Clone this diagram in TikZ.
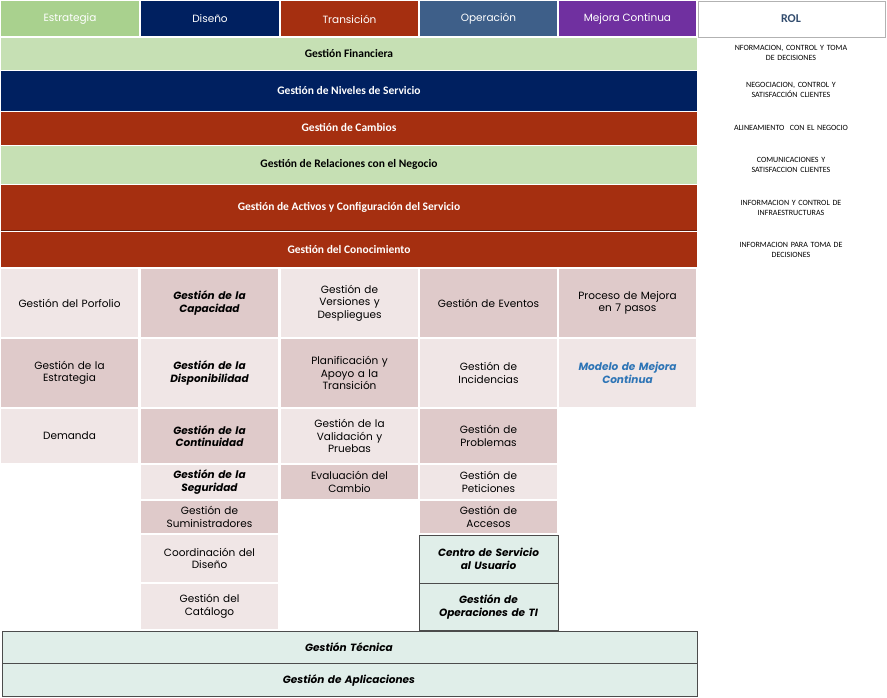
\documentclass[tikz,border=0pt]{standalone}
\usepackage{fontspec}
\setmainfont{Poppins}
\newfontfamily\cf{Carlito}
\definecolor{cest}{HTML}{A9D18E}
\definecolor{cdis}{HTML}{002060}
\definecolor{ctra}{HTML}{A52F10}
\definecolor{cope}{HTML}{3E5F89}
\definecolor{cmej}{HTML}{7030A0}
\definecolor{cgreen}{HTML}{C6E0B4}
\definecolor{clt}{HTML}{F0E6E6}
\definecolor{cdk}{HTML}{DFCACA}
\definecolor{cteal}{HTML}{E0EEE9}
\definecolor{cblue}{HTML}{2E75B6}
\begin{document}
\begin{tikzpicture}[x=1pt,y=-1pt,
  cell/.style={draw=white,line width=1.5pt,inner sep=0pt},
  gtxt/.style={font=\fontsize{10.5}{12.5}\selectfont,align=center,text width=138pt},
  btxt/.style={font=\fontsize{10.5}{12.5}\selectfont\bfseries\itshape,align=center,text width=138pt},
  band/.style={font=\cf\fontsize{11.5}{13}\selectfont\bfseries},
  rol/.style={font=\cf\fontsize{8}{10}\selectfont,align=center,text width=186pt}]
\useasboundingbox (0,0) rectangle (887,698);
\fill[white] (0,0) rectangle (887,698);
% header
\foreach \a/\b/\c/\t [count=\i] in {0/140/cest/Estrategia,140/280/cdis/Diseño,280/419/ctra/Transición,419/558/cope/Operación,558/697/cmej/Mejora Continua}{
  \filldraw[cell,fill=\c] (\a,0) rectangle (\b,37);
  \node[font=\fontsize{10.5}{12}\selectfont,text=white] (h\i) at ({(\a+\b)/2},19) {\t};
}
\draw[gray!60] (698,1) rectangle (885,37);
\node[font=\cf\fontsize{12}{14}\selectfont\bfseries,text=cope!80!black] (rol) at (791,19) {ROL};
% bands
\foreach \ya/\yb/\c/\tc/\t [count=\i] in {37/70/cgreen/black/Gestión Financiera,70/111/cdis/white/Gestión de Niveles de Servicio,111/145/ctra/white/Gestión de Cambios,145/184/cgreen/black/Gestión de Relaciones con el Negocio,184/231/ctra/white/Gestión de Activos y Configuración del Servicio,231/268/ctra/white/Gestión del Conocimiento}{
  \fill[\c] (1,\ya+1) rectangle (697,\yb);
  \node[band,text=\tc] (b\i) at (349,{(\ya+\yb)/2}) {\t};
}
\draw[ctra!60!black,line width=1pt] (1,231) -- (697,231);
\node[rol] (r1) at (791,53) {NFORMACION, CONTROL Y TOMA\\DE DECISIONES};
\node[rol] (r2) at (791,90) {NEGOCIACION, CONTROL Y\\SATISFACCIÓN CLIENTES};
\node[rol] (r3) at (791,128) {ALINEAMIENTO\ \ CON EL NEGOCIO};
\node[rol] (r4) at (791,165) {COMUNICACIONES Y\\SATISFACCION CLIENTES};
\node[rol] (r5) at (791,208) {INFORMACION Y CONTROL DE\\INFRAESTRUCTURAS};
\node[rol] (r6) at (791,250) {INFORMACION PARA TOMA DE\\DECISIONES};
% grid cells: x0,y0,y1,color,style,text
\foreach \x/\ya/\yb/\c/\s/\t [count=\i] in {
 0/268/338/clt/gtxt/Gestión del Porfolio,
 0/338/408/cdk/gtxt/Gestión de la\\Estrategia,
 0/408/464/clt/gtxt/Demanda,
 140/268/338/cdk/btxt/Gestión de la\\Capacidad,
 140/338/408/clt/btxt/Gestión de la\\Disponibilidad,
 140/408/464/cdk/btxt/Gestión de la\\Continuidad,
 140/464/500/clt/btxt/Gestión de la\\Seguridad,
 140/500/534/cdk/gtxt/Gestión de\\Suministradores,
 140/534/583/clt/gtxt/Coordinación del\\Diseño,
 140/583/630/clt/gtxt/Gestión del\\Catálogo,
 280/268/338/clt/gtxt/Gestión de\\Versiones y\\Despliegues,
 280/338/408/cdk/gtxt/Planificación y\\Apoyo a la\\Transición,
 280/408/464/clt/gtxt/Gestión de la\\Validación y\\Pruebas,
 280/464/500/cdk/gtxt/Evaluación del\\Cambio,
 419/268/338/cdk/gtxt/Gestión de Eventos,
 419/338/408/clt/gtxt/Gestión de\\Incidencias,
 419/408/464/cdk/gtxt/Gestión de\\Problemas,
 419/464/500/clt/gtxt/Gestión de\\Peticiones,
 419/500/534/cdk/gtxt/Gestión de\\Accesos,
 558/268/338/cdk/gtxt/Proceso de Mejora\\en 7 pasos}{
  \filldraw[cell,fill=\c] (\x,\ya) rectangle (\x+139,\yb);
  \node[\s] (g\i) at (\x+69.5,{(\ya+\yb)/2}) {\t};
}
\filldraw[cell,fill=clt] (558,338) rectangle (697,408);
\node[btxt,text=cblue] (mod) at (627.5,373) {Modelo de Mejora\\Continua};
\filldraw[fill=cteal,draw=black!70,line width=1pt] (419,535) rectangle (558,583);
\node[btxt] (cs) at (488.5,559) {Centro de Servicio\\al Usuario};
\filldraw[fill=cteal,draw=black!70,line width=1pt] (419,583) rectangle (558,630);
\node[btxt] (ot) at (488.5,607) {Gestión de\\Operaciones de TI};
\filldraw[fill=cteal,draw=black!70,line width=1pt] (2,631) rectangle (697,663);
\node[btxt,text width=600pt] (tec) at (349,647) {Gestión Técnica};
\filldraw[fill=cteal,draw=black!70,line width=1pt] (2,663) rectangle (697,696);
\node[btxt,text width=600pt] (apl) at (349,680) {Gestión de Aplicaciones};
\end{tikzpicture}
\end{document}
